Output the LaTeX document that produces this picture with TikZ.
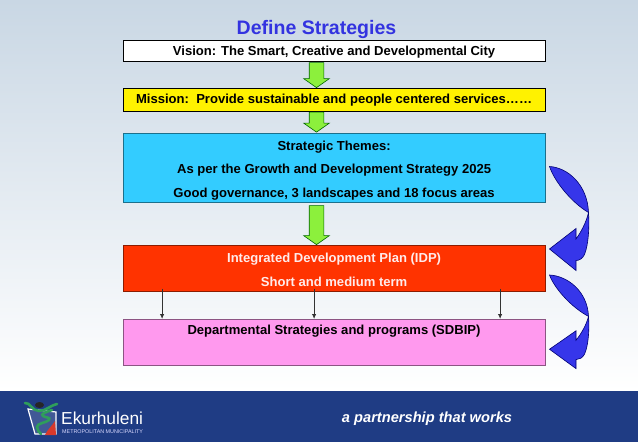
\documentclass[tikz,border=0pt]{standalone}
\usepackage{fontspec}
\setmainfont{Liberation Sans}
\usetikzlibrary{shapes.arrows,arrows.meta}
\definecolor{bgtop}{HTML}{C9D7E4}
\definecolor{footblue}{HTML}{1F3C84}
\definecolor{titleblue}{HTML}{3333E0}
\definecolor{curveblue}{HTML}{3636EA}
\definecolor{arrowgreen}{HTML}{8CF03C}
\definecolor{themecyan}{HTML}{33CCFF}
\definecolor{idpred}{HTML}{FF3300}
\definecolor{deptpink}{HTML}{FF99EE}
\definecolor{logored}{HTML}{D8392B}
\definecolor{logogreen}{HTML}{2F9E5B}
\tikzset{
  stratbox/.style={draw=#1!55!black,line width=.7bp,minimum width=421.5bp,inner sep=0pt,anchor=north west,align=center,font=\fontsize{13.1}{15}\selectfont\bfseries},
  greenarrow/.style={single arrow,draw=black!60!green,fill=arrowgreen,line width=.6bp,shape border rotate=270,inner sep=7bp,
    single arrow head extend=5.5bp,anchor=tip,single arrow tip angle=110},
  linkarrow/.style={-{Latex[length=5bp,width=4.5bp]},line width=.9bp,draw=black!80},
  bluecurve/.pic={
    \draw [draw=black!55!blue,fill=curveblue,line width=.6bp] (0,0) .. controls (18,1) and (38,18) .. (39,46)
      .. controls (40,60) and (39,78) .. (35,88) .. controls (33,92) and (30,94) .. (26.5,94)
      -- (26.5,104) -- (0,82.5) -- (26.5,62) -- (26.5,72.5) .. controls (32,65) and (37,55) .. (39,46)
      .. controls (22,36) and (5,15) .. (0,0) -- cycle;
  }
}
\begin{document}
\begin{tikzpicture}[x=1bp,y=-1bp]
  \useasboundingbox (0,0) rectangle (638,442);
  \shade [top color=bgtop,bottom color=white] (0,0) rectangle (638,391);
  \fill [footblue] (0,391) rectangle (638,442);
  % Title
  \node (title) at (316.5,29) {\fontsize{19.6}{21}\selectfont\bfseries\color{titleblue}Define Strategies};
  % Boxes
  \node [stratbox=black,fill=white,minimum height=21bp] (vision) at (123,40) {\rule{0pt}{12bp}Vision: The Smart, Creative and Developmental City};
  \node [stratbox=black,fill=yellow,minimum height=23bp] (mission) at (123,88) {Mission:\ \ Provide sustainable and people centered services……};
  \node [stratbox=themecyan,fill=themecyan,minimum height=69bp] (themes) at (123,133) {\rule{0pt}{15bp}Strategic Themes:\\[8.3bp]As per the Growth and Development Strategy 2025\\[8.3bp]Good governance, 3 landscapes and 18 focus areas};
  \node [stratbox=idpred,fill=idpred,minimum height=46bp,text=white!92!red] (idp) at (123,245) {\rule{0pt}{11.5bp}Integrated Development Plan (IDP)\\[9bp]Short and medium term};
  \node [stratbox=deptpink,fill=deptpink,minimum height=46bp] (dept) at (123,319) {};
  \node [font=\fontsize{13.1}{15}\selectfont\bfseries] (depttext) at (334,331.5) {Departmental Strategies and programs (SDBIP)};
  % Edge: vision -> mission
  \node [greenarrow,minimum height=25bp] (visionarrow) at (316.5,88) {};
  % Edge: mission -> themes
  \node [greenarrow,minimum height=20bp] (missionarrow) at (316.5,132.5) {};
  % Edge: themes -> idp
  \node [greenarrow,minimum height=39bp] (themesarrow) at (316.5,245) {};
  % Edge: idp -> dept
  \draw [linkarrow] ([xshift=-172bp,yshift=3bp]idp.south) -- ([xshift=-172bp]dept.north);
  \draw [linkarrow] ([xshift=-20bp,yshift=3bp]idp.south) -- ([xshift=-20bp]dept.north);
  \draw [linkarrow] ([xshift=166bp,yshift=3bp]idp.south) -- ([xshift=166bp]dept.north);
  % Curved arrows
  \pic at (549.5,166.5) {bluecurve};
  \pic [yscale=.9] at (549.5,275) {bluecurve};
  % Footer
  \node [text=white,font=\fontsize{14.7}{16}\selectfont\itshape\bfseries] (tagline) at (427,419) {a partnership that works};
  \node [text=white,font=\fontsize{17.4}{19}\selectfont,anchor=west,inner sep=0pt] (ekurhuleni) at (61,418.5) {Ekurhuleni};
  \node [text=white!85!blue,font=\fontsize{5.4}{6}\selectfont,anchor=west,inner sep=0pt] (metro) at (62,431.5) {METROPOLITAN MUNICIPALITY};
  % Logo
  \draw [white,fill=footblue!85!white,line width=1.2bp] (28,409) -- (35,434) -- (56,434) -- (56,412) -- cycle;
  \fill [logored] (45,435) .. controls (47,430) and (52,426) .. (55,421) -- (56,435) -- cycle;
  \draw [logogreen,line width=2.6bp,line cap=round] (25,403) .. controls (30,402) and (32,411) .. (39,411) .. controls (46,411) and (51,405) .. (57,404);
  \draw [logogreen,line width=2.6bp,line cap=round] (52,410) .. controls (46,412) and (40,414) .. (43,416) .. controls (46,418) and (51,417) .. (49,420) .. controls (46,423) and (37,423) .. (37,427) .. controls (37,430) and (39,432) .. (41,434);
  \fill [black!85] (39.5,405) ellipse (4.5bp and 3bp);
\end{tikzpicture}
\end{document}
